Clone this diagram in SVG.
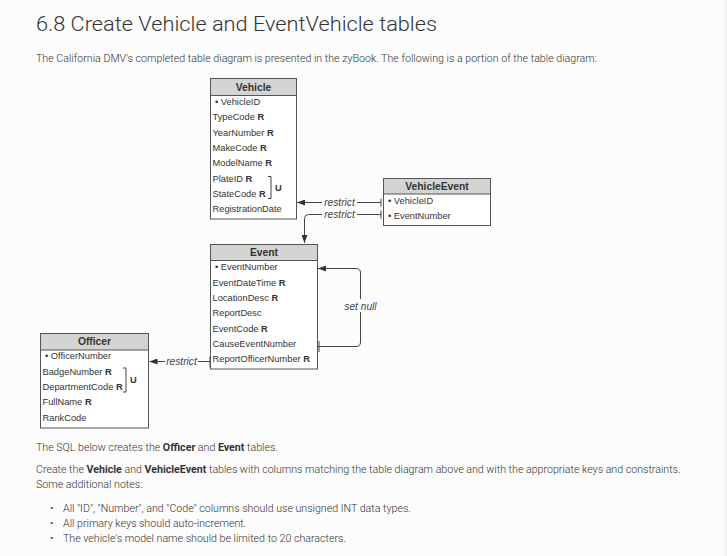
<svg xmlns="http://www.w3.org/2000/svg" width="727" height="556" viewBox="0 0 727 556">
<defs>
<style>
.pg{font-family:Roboto,"Liberation Sans",sans-serif;font-weight:300;fill:#333}
.t{font-family:"Liberation Sans",Arial,sans-serif;font-size:9.3px;fill:#333}
.h{font-family:"Liberation Sans",Arial,sans-serif;font-size:10.3px;font-weight:bold;fill:#333;text-anchor:middle}
.b{font-weight:bold}
.lab{font-family:"Liberation Sans",Arial,sans-serif;font-size:10.2px;font-style:italic;fill:#444}
.box{fill:#fff;stroke:#555;stroke-width:1}
.hd{fill:#d4d4d4;stroke:#555;stroke-width:1}
.ln{fill:none;stroke:#444;stroke-width:1}
</style>
<marker id="ar" viewBox="0 0 8 6" refX="8" refY="3" markerWidth="8" markerHeight="6" markerUnits="userSpaceOnUse" orient="auto">
<path d="M0,0 L8,3 L0,6 Z" fill="#333"/>
</marker>
</defs>
<rect width="727" height="556" fill="#fcfcfc"/>
<line x1="726" y1="0" x2="726" y2="556" stroke="#e2e2e2" stroke-width="1"/>

<g id="page-text">
<text class="pg" x="36" y="31" font-size="21" textLength="401" lengthAdjust="spacingAndGlyphs">6.8 Create Vehicle and EventVehicle tables</text>
<text class="pg" x="36" y="62" font-size="10.5" textLength="561" lengthAdjust="spacingAndGlyphs">The California DMV's completed table diagram is presented in the zyBook. The following is a portion of the table diagram:</text>
<text class="pg" x="36" y="451" font-size="10.65">The SQL below creates the <tspan font-weight="bold">Officer</tspan> and <tspan font-weight="bold">Event</tspan> tables.</text>
<text class="pg" x="36" y="473" font-size="10.65">Create the <tspan font-weight="bold">Vehicle</tspan> and <tspan font-weight="bold">VehicleEvent</tspan> tables with columns matching the table diagram above and with the appropriate keys and constraints.</text>
<text class="pg" x="36" y="488" font-size="10.65">Some additional notes:</text>
<text class="pg" x="50" y="512" font-size="10.65">•</text>
<text class="pg" x="63" y="512" font-size="10.65">All "ID", "Number", and "Code" columns should use unsigned INT data types.</text>
<text class="pg" x="50" y="527" font-size="10.65">•</text>
<text class="pg" x="63" y="527" font-size="10.65">All primary keys should auto-increment.</text>
<text class="pg" x="50" y="542" font-size="10.65">•</text>
<text class="pg" x="63" y="542" font-size="10.65">The vehicle's model name should be limited to 20 characters.</text>
</g>

<g id="connectors">
<path class="ln" d="M381,202.5 H357 M322,202.5 H297" marker-end="url(#ar)"/>
<line class="ln" x1="381" y1="198.5" x2="381" y2="206.5"/>
<text class="lab" x="339.5" y="205.5" text-anchor="middle">restrict</text>
<path class="ln" d="M381,214.5 H357 M322,214.5 H308.5 Q304.5,214.5 304.5,218.5 V243" marker-end="url(#ar)"/>
<line class="ln" x1="381" y1="210.5" x2="381" y2="218.5"/>
<text class="lab" x="339.5" y="217.5" text-anchor="middle">restrict</text>
<path class="ln" d="M318,346.5 H356 Q360.5,346.5 360.5,342 V273 Q360.5,268.5 356,268.5 H318" marker-end="url(#ar)"/>
<line class="ln" x1="319" y1="341" x2="319" y2="352"/>
<rect x="342" y="299" width="37" height="13" fill="#fcfcfc"/>
<text class="lab" x="360.5" y="309.5" text-anchor="middle">set null</text>
<path class="ln" d="M210,361.5 H198 M165,361.5 H149.5" marker-end="url(#ar)"/>
<line class="ln" x1="210" y1="356.5" x2="210" y2="367.5"/>
<text class="lab" x="181.5" y="364.5" text-anchor="middle">restrict</text>
</g>

<g id="Vehicle">
<rect class="box" x="210.5" y="78.5" width="86" height="140.5"/>
<rect class="hd" x="210.5" y="78.5" width="86" height="17"/>
<text class="h" x="253.5" y="90.5">Vehicle</text>
<text class="t" x="215" y="105">• VehicleID</text>
<text class="t" x="212.5" y="120.3">TypeCode <tspan class="b">R</tspan></text>
<text class="t" x="212.5" y="135.6">YearNumber <tspan class="b">R</tspan></text>
<text class="t" x="212.5" y="150.9">MakeCode <tspan class="b">R</tspan></text>
<text class="t" x="212.5" y="166.2">ModelName <tspan class="b">R</tspan></text>
<text class="t" x="212.5" y="181.5">PlateID <tspan class="b">R</tspan></text>
<text class="t" x="212.5" y="196.8">StateCode <tspan class="b">R</tspan></text>
<text class="t" x="212.5" y="212.1">RegistrationDate</text>
<path class="ln" d="M268,176.5 H271 V198.5 H268"/>
<text class="t b" x="275" y="190.5">U</text>
</g>

<g id="VehicleEvent">
<rect class="box" x="383.5" y="178.5" width="107" height="47"/>
<rect class="hd" x="383.5" y="178.5" width="107" height="15.5"/>
<text class="h" x="437" y="189.5">VehicleEvent</text>
<text class="t" x="388" y="204.3">• VehicleID</text>
<text class="t" x="388" y="219">• EventNumber</text>
</g>

<g id="Event">
<rect class="box" x="210.5" y="244.5" width="107" height="124.5"/>
<rect class="hd" x="210.5" y="244.5" width="107" height="16"/>
<text class="h" x="264" y="256">Event</text>
<text class="t" x="215" y="270.3">• EventNumber</text>
<text class="t" x="212.5" y="285.6">EventDateTime <tspan class="b">R</tspan></text>
<text class="t" x="212.5" y="300.9">LocationDesc <tspan class="b">R</tspan></text>
<text class="t" x="212.5" y="316.2">ReportDesc</text>
<text class="t" x="212.5" y="331.5">EventCode <tspan class="b">R</tspan></text>
<text class="t" x="212.5" y="346.8">CauseEventNumber</text>
<text class="t" x="212.5" y="362.1">ReportOfficerNumber <tspan class="b">R</tspan></text>
</g>

<g id="Officer">
<rect class="box" x="40.5" y="333.5" width="108" height="94.5"/>
<rect class="hd" x="40.5" y="333.5" width="108" height="16.5"/>
<text class="h" x="94.5" y="345">Officer</text>
<text class="t" x="45" y="359.3">• OfficerNumber</text>
<text class="t" x="42.5" y="374.6">BadgeNumber <tspan class="b">R</tspan></text>
<text class="t" x="42.5" y="389.9">DepartmentCode <tspan class="b">R</tspan></text>
<text class="t" x="42.5" y="405.2">FullName <tspan class="b">R</tspan></text>
<text class="t" x="42.5" y="420.5">RankCode</text>
<path class="ln" d="M123,368 H126 V392 H123"/>
<text class="t b" x="130" y="382.5">U</text>
</g>
</svg>
